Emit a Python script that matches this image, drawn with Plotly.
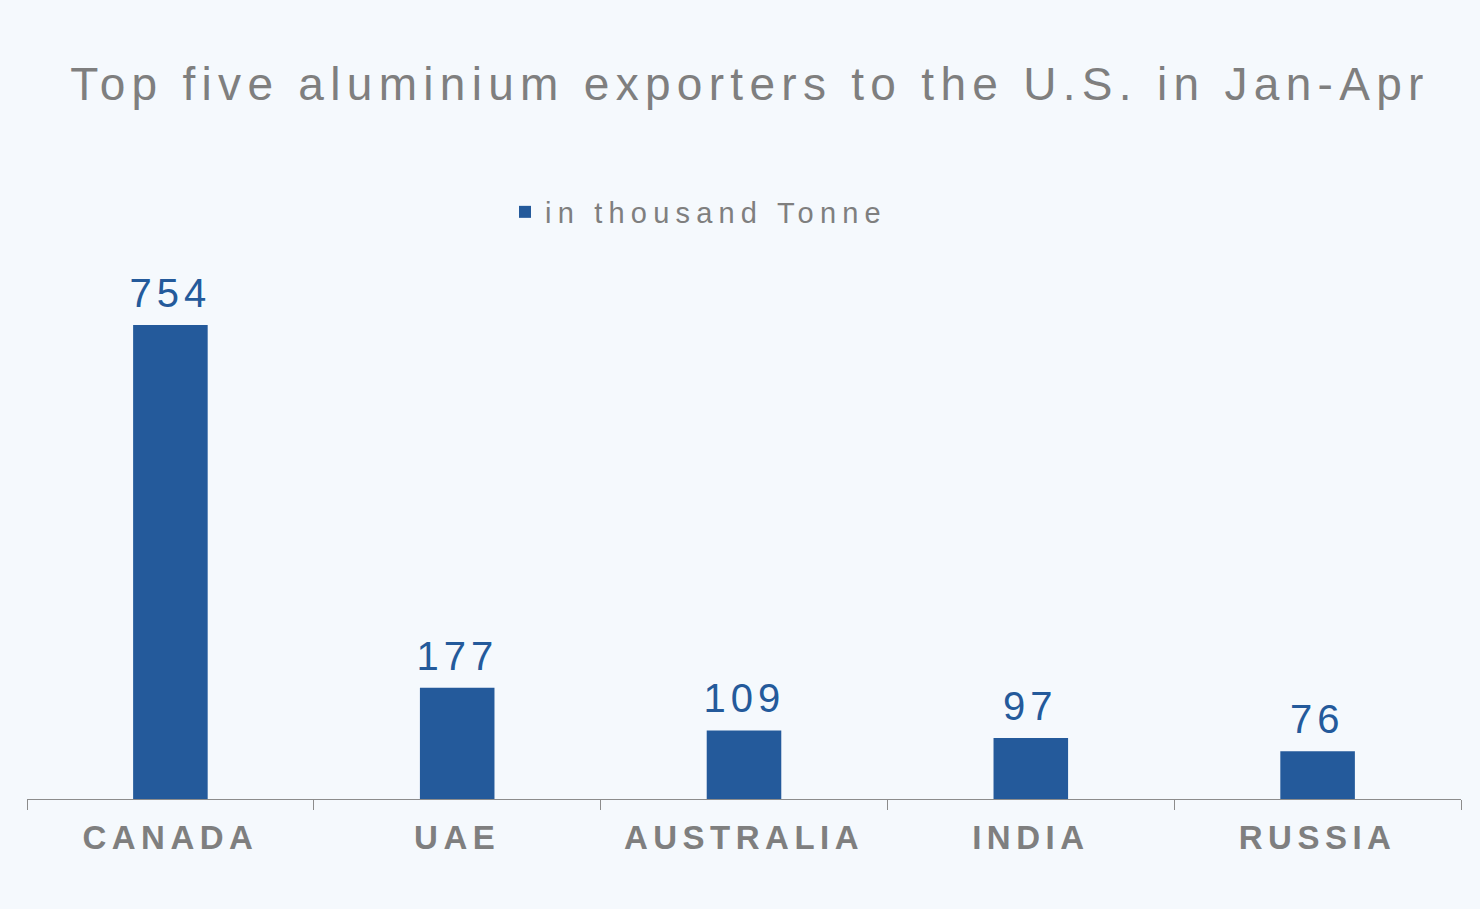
import plotly.graph_objects as go

countries = ["CANADA", "UAE", "AUSTRALIA", "INDIA", "RUSSIA"]
values = [754, 177, 109, 97, 76]
series_name = "in thousand Tonne"
title_text = "Top five aluminium exporters to the U.S. in Jan-Apr"

BAR = "#245A9B"
GRAY = "#7F7F7F"
BG = "#F5F9FD"
FONT = "Liberation Sans, Arial, sans-serif"

fig = go.Figure()
fig.add_trace(go.Bar(
    x=countries, y=values, name=series_name,
    marker=dict(color=BAR, line=dict(width=0)),
    showlegend=True,
))

for c, v in zip(countries, values):
    fig.add_annotation(
        x=c, y=v, text=str(v), showarrow=False,
        xref="x", yref="y", yanchor="bottom", yshift=8,
        font=dict(family=FONT, size=40, color=BAR),
    )

fig.update_layout(
    width=1480, height=909,
    paper_bgcolor=BG, plot_bgcolor=BG,
    margin=dict(l=27, r=19, t=296, b=110),
    bargap=0.74,
    title=dict(
        text=title_text, x=750 / 1480, xanchor="center", xref="container",
        y=1 - 84 / 909, yanchor="middle", yref="container",
        font=dict(family=FONT, size=46, color=GRAY),
    ),
    legend=dict(
        orientation="h", x=(505 - 27) / 1434, xanchor="left",
        y=1 + (296 - 212) / 503, yanchor="middle",
        font=dict(family=FONT, size=29, color=GRAY),
        itemwidth=30, bgcolor="rgba(0,0,0,0)",
    ),
    xaxis=dict(
        type="category", range=[-0.5, 4.5],
        showline=True, linecolor="#8C8C8C", linewidth=1,
        ticks="outside", tickson="boundaries", ticklen=10,
        tickcolor="#8C8C8C", tickwidth=1,
        showgrid=False, zeroline=False,
        ticklabelstandoff=9,
        tickfont=dict(family=FONT, size=33, color=GRAY, weight=700),
    ),
    yaxis=dict(range=[0, 800], visible=False, showgrid=False, zeroline=False),
)

post = """
var s=document.createElement('style');
s.innerHTML='.gtitle{letter-spacing:6.3px} .legendtext{letter-spacing:6.2px} .xtick text{letter-spacing:5.5px} .annotation-text{letter-spacing:5px} .legend, .legend *{clip-path:none !important}';
document.head.appendChild(s);
"""
fig.write_html("out.html", post_script=post)
